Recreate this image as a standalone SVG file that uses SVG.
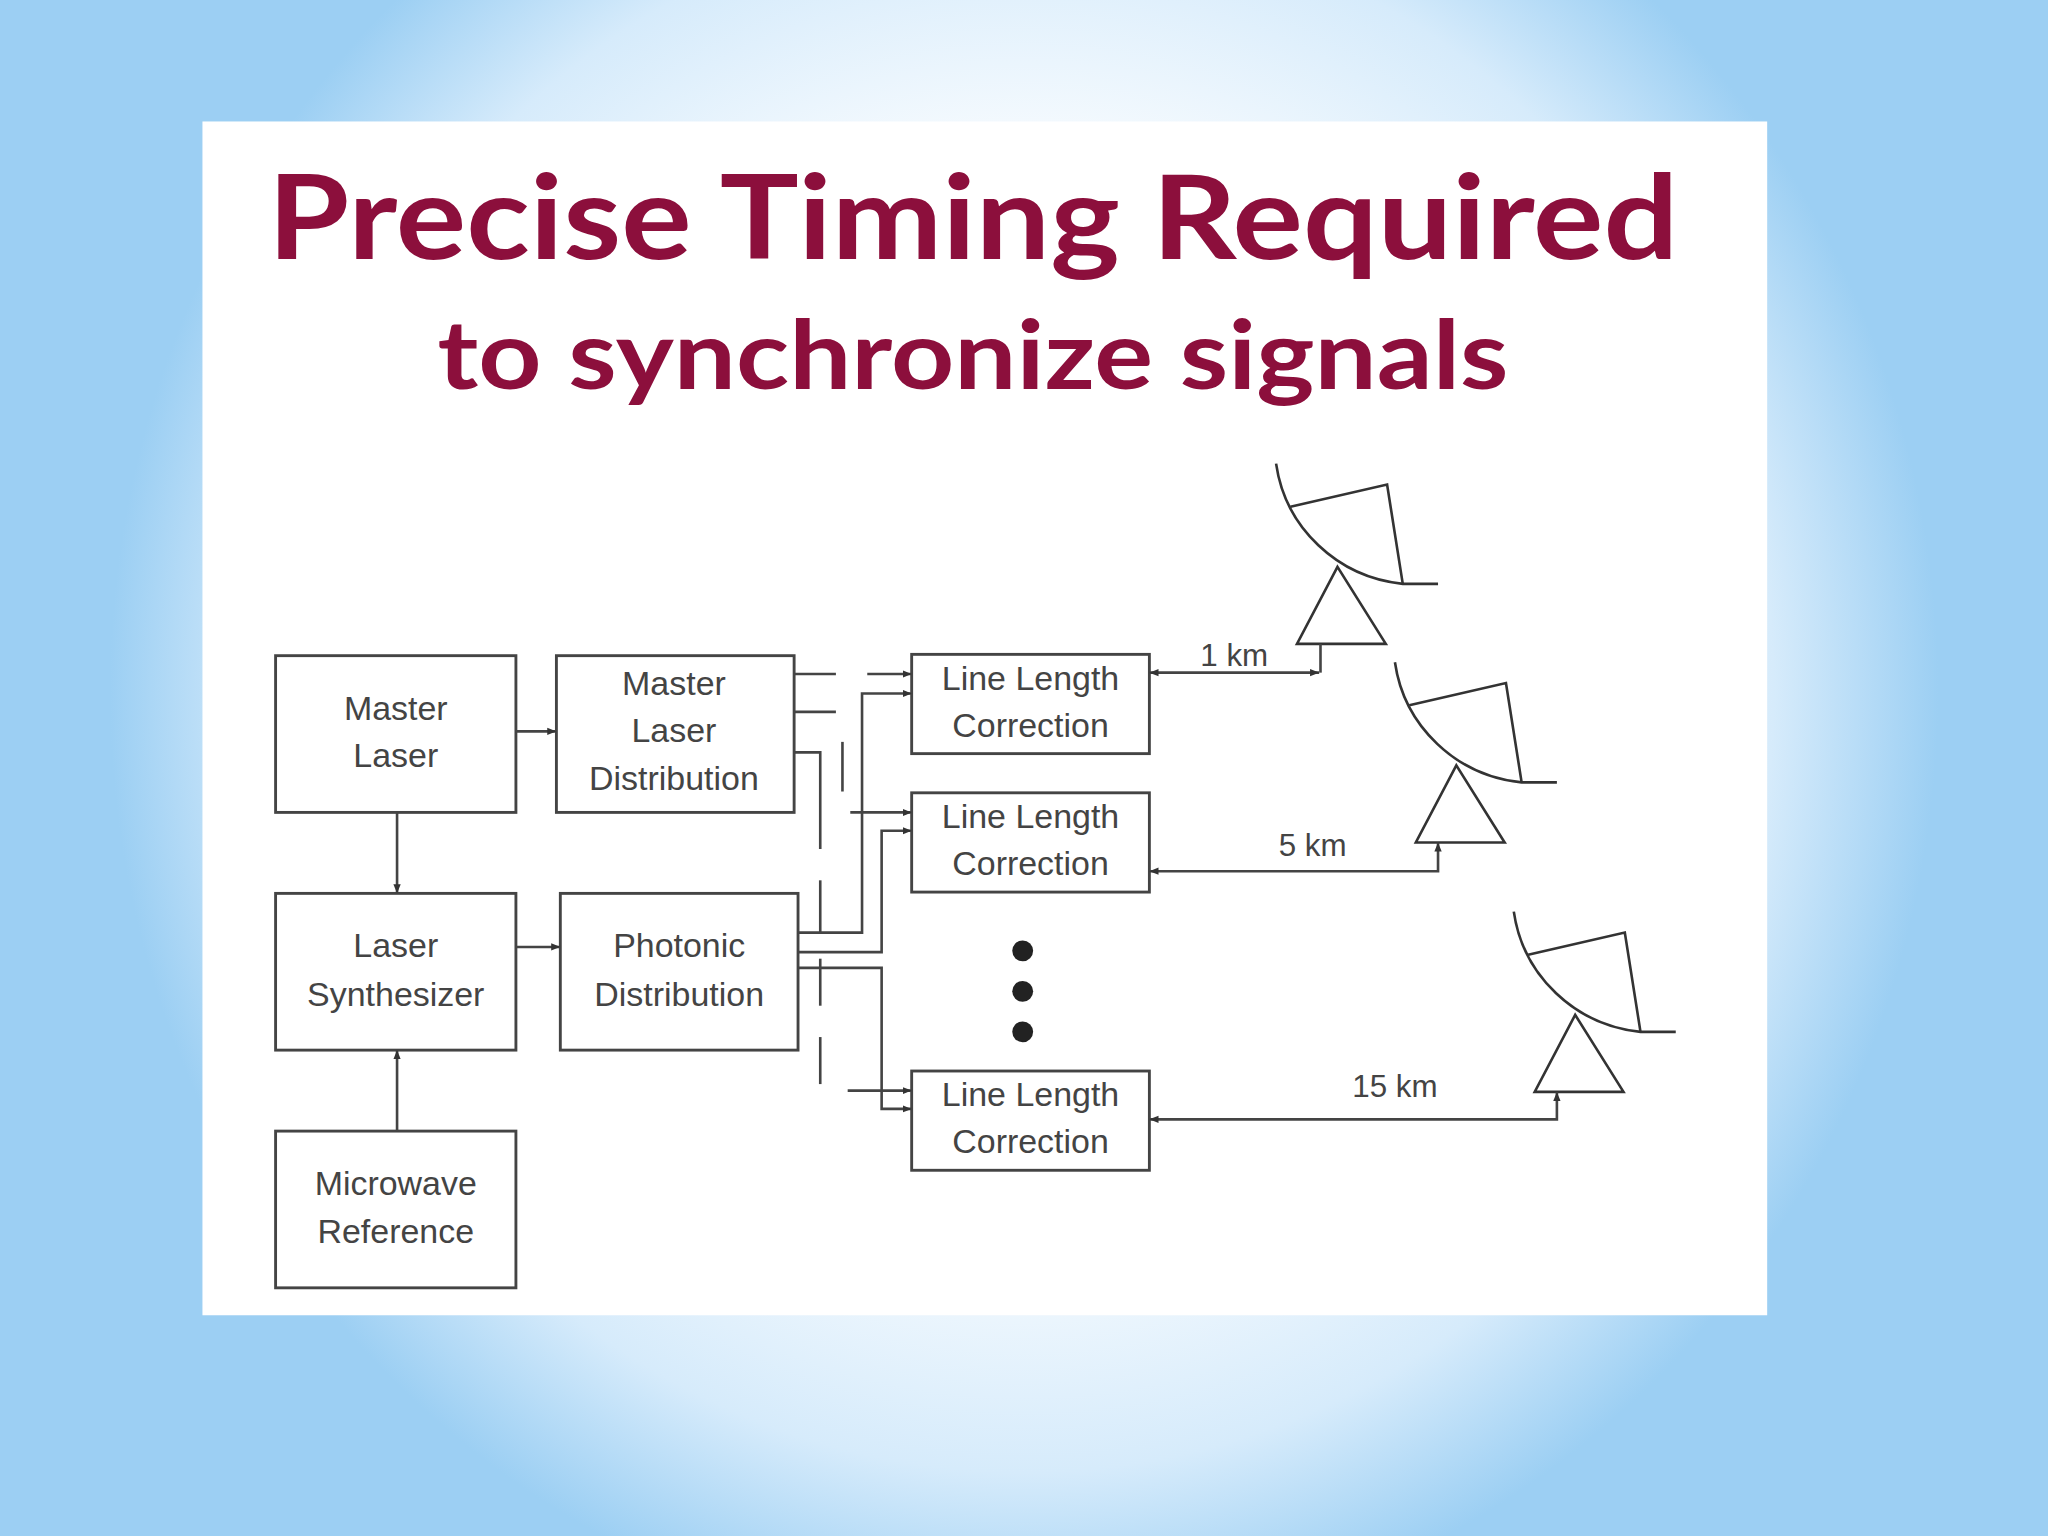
<svg xmlns="http://www.w3.org/2000/svg" width="2048" height="1536" viewBox="0 0 2048 1536">
<defs>
<radialGradient id="bg" cx="0.5" cy="0.45" r="0.62" gradientTransform="translate(0.5 0.45) scale(0.72 1) translate(-0.5 -0.45)">
<stop offset="0.5" stop-color="#ffffff"/>
<stop offset="0.82" stop-color="#d6ebfb"/>
<stop offset="1" stop-color="#9ccff3"/>
</radialGradient>
<marker id="ah" viewBox="0 0 10 10" refX="10" refY="5" markerWidth="7" markerHeight="7" orient="auto-start-reverse" markerUnits="userSpaceOnUse"><path d="M0,1 L10,5 L0,9 z" fill="#333"/></marker>
<style>
.box{fill:none;stroke:#444;stroke-width:2.2}
.t{font-family:"Liberation Sans",Arial,sans-serif;font-size:26px;fill:#444;text-anchor:middle}
.k{font-family:"Liberation Sans",Arial,sans-serif;font-size:24px;fill:#444;text-anchor:middle}
.ln{fill:none;stroke:#444;stroke-width:2}
.title{font-family:Lato,"Open Sans",sans-serif;font-weight:bold;fill:#8c0f3c;text-anchor:middle}
.dish{fill:none;stroke:#333;stroke-width:2}
</style>
<g id="antenna">
<path class="dish" d="M-47,-79 C-40,-30 0,8 50,13 L77,13"/>
<path class="dish" d="M-36,-46 L38,-63 L50,13"/>
<path class="dish" d="M0,0 L-31,59 L37,59 Z"/>
</g>
</defs>
<rect width="2048" height="1536" fill="url(#bg)"/>
<g transform="scale(1.30612)">
<rect x="155" y="93" width="1198" height="914" fill="#ffffff"/>
<text class="title" x="745" y="198" font-size="90" textLength="1080" lengthAdjust="spacingAndGlyphs">Precise Timing Required</text>
<text class="title" x="745" y="298" font-size="74" textLength="820" lengthAdjust="spacingAndGlyphs">to synchronize signals</text>

<g id="master-laser"><rect class="box" x="211" y="502" width="184" height="120"/><text class="t" x="303" y="551">Master</text><text class="t" x="303" y="587">Laser</text></g>
<g id="master-laser-distribution"><rect class="box" x="426" y="502" width="182" height="120"/><text class="t" x="516" y="532">Master</text><text class="t" x="516" y="568">Laser</text><text class="t" x="516" y="605">Distribution</text></g>
<g id="laser-synthesizer"><rect class="box" x="211" y="684" width="184" height="120"/><text class="t" x="303" y="733">Laser</text><text class="t" x="303" y="770">Synthesizer</text></g>
<g id="photonic-distribution"><rect class="box" x="429" y="684" width="182" height="120"/><text class="t" x="520" y="733">Photonic</text><text class="t" x="520" y="770">Distribution</text></g>
<g id="microwave-reference"><rect class="box" x="211" y="866" width="184" height="120"/><text class="t" x="303" y="915">Microwave</text><text class="t" x="303" y="952">Reference</text></g>
<g id="llc1"><rect class="box" x="698" y="501" width="182" height="76"/><text class="t" x="789" y="528">Line Length</text><text class="t" x="789" y="564">Correction</text></g>
<g id="llc2"><rect class="box" x="698" y="607" width="182" height="76"/><text class="t" x="789" y="634">Line Length</text><text class="t" x="789" y="670">Correction</text></g>
<g id="llc3"><rect class="box" x="698" y="820" width="182" height="76"/><text class="t" x="789" y="847">Line Length</text><text class="t" x="789" y="883">Correction</text></g>
<g id="dots" fill="#222"><circle cx="783" cy="728" r="8"/><circle cx="783" cy="759" r="8"/><circle cx="783" cy="790" r="8"/></g>
<g id="antenna1"><use href="#antenna" x="1024" y="434"/></g>
<g id="antenna2"><use href="#antenna" x="1115" y="586"/></g>
<g id="antenna3"><use href="#antenna" x="1206" y="777"/></g>

<g id="connectors">
<line class="ln" x1="395" y1="560" x2="426" y2="560" marker-end="url(#ah)"/>
<line class="ln" x1="395" y1="725" x2="429" y2="725" marker-end="url(#ah)"/>
<line class="ln" x1="304" y1="622" x2="304" y2="684" marker-end="url(#ah)"/>
<line class="ln" x1="304" y1="866" x2="304" y2="804" marker-end="url(#ah)"/>
<line class="ln" x1="608" y1="516" x2="640" y2="516"/>
<line class="ln" x1="664" y1="516" x2="698" y2="516" marker-end="url(#ah)"/>
<line class="ln" x1="608" y1="545" x2="640" y2="545"/>
<polyline class="ln" points="608,576 628,576 628,650"/>
<line class="ln" x1="628" y1="674" x2="628" y2="715"/>
<line class="ln" x1="628" y1="734" x2="628" y2="770"/>
<line class="ln" x1="628" y1="794" x2="628" y2="830"/>
<line class="ln" x1="645" y1="568" x2="645" y2="606"/>
<line class="ln" x1="651" y1="622" x2="698" y2="622" marker-end="url(#ah)"/>
<line class="ln" x1="649" y1="835" x2="698" y2="835" marker-end="url(#ah)"/>
<polyline class="ln" points="611,714 660,714 660,531 698,531" marker-end="url(#ah)"/>
<polyline class="ln" points="611,729 675,729 675,636 698,636" marker-end="url(#ah)"/>
<polyline class="ln" points="611,741 675,741 675,849 698,849" marker-end="url(#ah)"/>
<line class="ln" x1="880" y1="515" x2="1010" y2="515" marker-start="url(#ah)" marker-end="url(#ah)"/>
<line class="ln" x1="1011" y1="515" x2="1011" y2="493"/>
<polyline class="ln" points="880,667 1101,667 1101,645" marker-start="url(#ah)" marker-end="url(#ah)"/>
<polyline class="ln" points="880,857 1192,857 1192,836" marker-start="url(#ah)" marker-end="url(#ah)"/>
</g>
<text class="k" x="945" y="510">1 km</text>
<text class="k" x="1005" y="655">5 km</text>
<text class="k" x="1068" y="840">15 km</text>
</g>
</svg>
